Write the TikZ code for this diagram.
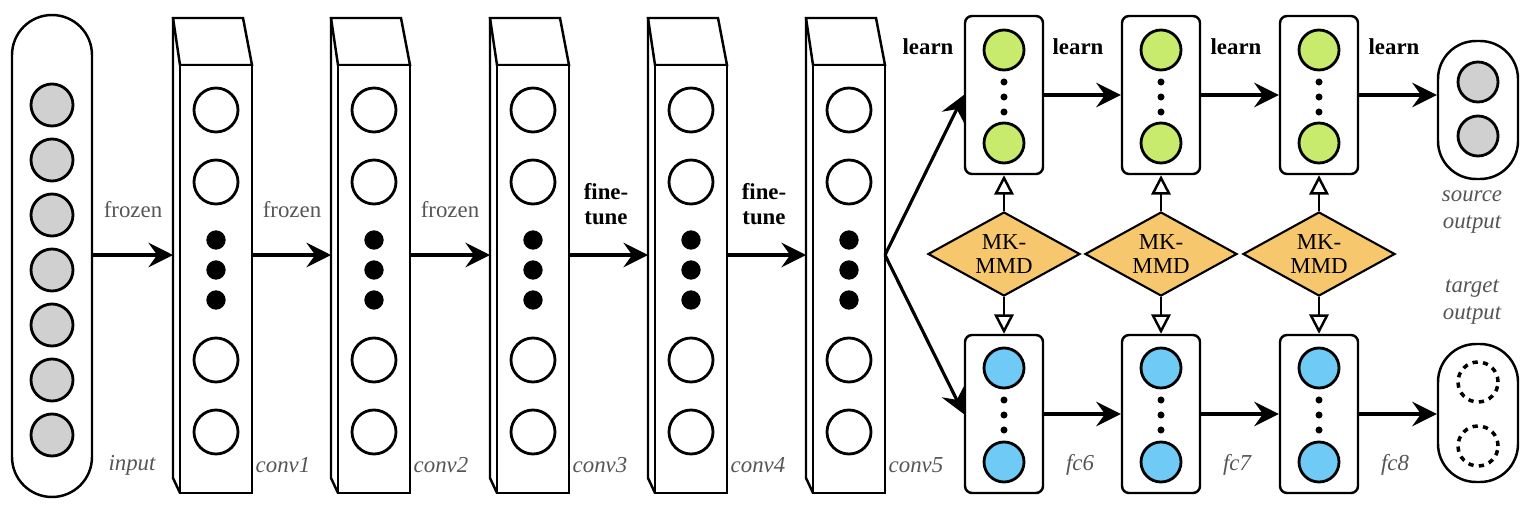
\documentclass[tikz,border=0pt]{standalone}
\usepackage{fontspec}
\setmainfont{Liberation Serif}
\usetikzlibrary{arrows.meta,shapes.geometric}
\definecolor{lgreen}{HTML}{C8EB6E}
\definecolor{lblue}{HTML}{6FCBF5}
\definecolor{mmd}{HTML}{F7C76E}
\definecolor{lgray}{HTML}{D0D0D0}
\definecolor{tgray}{HTML}{555555}
\begin{document}
\begin{tikzpicture}[x=0.02cm,y=-0.02cm,
  line width=1.6pt,
  font=\rmfamily,
  arr/.style={-{Stealth[length=14pt,width=14pt,inset=5pt]},line width=1.8pt},
  oarr/.style={-{Triangle[open,length=11pt,width=11pt]},line width=1.4pt},
  neur/.style={circle,draw,minimum size=44\cdotpx,inner sep=0pt},
  dot/.style={circle,fill=black,minimum size=11pt,inner sep=0pt},
  sdot/.style={circle,fill=black,minimum size=4pt,inner sep=0pt},
  lab/.style={font=\rmfamily\fontsize{13}{15}\selectfont\itshape,text=tgray},
  tl/.style={font=\rmfamily\fontsize{13}{14}\selectfont,text=tgray},
  bl/.style={font=\rmfamily\fontsize{13}{14}\selectfont\bfseries,align=center},
  box/.style={draw,rounded corners=4pt,line width=1.4pt},
  diam/.style={diamond,draw,fill=mmd,line width=1.2pt,aspect=1.8,minimum width=152\cdotpx,minimum height=84\cdotpx,inner sep=0pt,align=center,font=\rmfamily\fontsize{13}{14}\selectfont}
]
\def\cdotpx{*0.02cm}
\useasboundingbox (0,0) rectangle (1538,507);
% input
\node[box,rounded corners=40\cdotpx,minimum width=80\cdotpx,minimum height=482\cdotpx] (in) at (52,256) {};
\foreach \i in {0,...,6}{\node[neur,fill=lgray,minimum size=42\cdotpx] (i\i) at (52,105+55*\i) {};}
\node[lab] (linput) at (132,465) {input};
% conv layers
\foreach \k/\x in {1/180,2/338,3/497,4/655,5/813}{
  \draw[line width=1.4pt] (\x-7,18) -- (\x+63,18) -- (\x+72,65) -- (\x,65) -- cycle;
  \draw[line width=1.4pt] (\x-7,18) -- (\x-7,478) -- (\x,493);
  \draw[line width=1.4pt,fill=white] (\x,65) rectangle (\x+72,493);
  \coordinate (c\k l) at (\x-7,255);
  \coordinate (c\k r) at (\x+72,255);
  \node[neur] (c\k a) at (\x+36,110) {};
  \node[neur] (c\k b) at (\x+36,182) {};
  \node[neur] (c\k c) at (\x+36,360) {};
  \node[neur] (c\k d) at (\x+36,432) {};
  \foreach \j in {0,1,2}{\node[dot] (c\k d\j) at (\x+36,240+30*\j) {};}
  \node[lab] (lc\k) at (\x+103,465) {conv\k};
}
\draw[arr] (in.east|-c1l) -- (c1l);
\draw[arr] (c1r) -- (c2l);
\draw[arr] (c2r) -- (c3l);
\draw[arr] (c3r) -- (c4l);
\draw[arr] (c4r) -- (c5l);
\node[tl] (f1) at (133,210) {frozen};
\node[tl] (f2) at (292,210) {frozen};
\node[tl] (f3) at (450,210) {frozen};
\node[bl] (f4) at (606,204) {fine-\\tune};
\node[bl] (f5) at (764,204) {fine-\\tune};
% fc layers
\foreach \k/\x/\n in {1/1004/6,2/1161/7,3/1319/8}{
  \node[box,minimum width=78\cdotpx,minimum height=158\cdotpx] (t\k) at (\x,95) {};
  \node[box,minimum width=78\cdotpx,minimum height=158\cdotpx] (b\k) at (\x,414) {};
  \node[neur,fill=lgreen,minimum size=40\cdotpx] (t\k a) at (\x,50) {};
  \node[neur,fill=lgreen,minimum size=40\cdotpx] (t\k b) at (\x,143) {};
  \node[neur,fill=lblue,minimum size=40\cdotpx] (b\k a) at (\x,368) {};
  \node[neur,fill=lblue,minimum size=40\cdotpx] (b\k b) at (\x,462) {};
  \foreach \j in {0,1,2}{\node[sdot] at (\x,82+15*\j) {}; \node[sdot] at (\x,400+15*\j) {};}
  \node[diam] (m\k) at (\x,254) {MK-\\MMD};
  \draw[oarr] (m\k.north) -- (t\k.south);
  \draw[oarr] (m\k.south) -- (b\k.north);
  \node[lab] (lf\k) at (\x+76,465) {fc\n};
}
\draw[arr] (c5r) -- (t1.west);
\draw[arr] (c5r) -- (b1.west);
\draw[arr] (t1.east) -- (t2.west);
\draw[arr] (t2.east) -- (t3.west);
\draw[arr] (b1.east) -- (b2.west);
\draw[arr] (b2.east) -- (b3.west);
% outputs
\node[box,rounded corners=38\cdotpx,minimum width=80\cdotpx,minimum height=138\cdotpx] (so) at (1478,110) {};
\node[box,rounded corners=38\cdotpx,minimum width=80\cdotpx,minimum height=138\cdotpx] (to) at (1478,413) {};
\node[neur,fill=lgray,minimum size=40\cdotpx] (so1) at (1478,82) {};
\node[neur,fill=lgray,minimum size=40\cdotpx] (so2) at (1478,136) {};
\node[neur,dashed,line width=2pt,minimum size=40\cdotpx] (to1) at (1478,382) {};
\node[neur,dashed,line width=2pt,minimum size=40\cdotpx] (to2) at (1478,446) {};
\draw[arr] (t3.east) -- (so.west|-t3.east);
\draw[arr] (b3.east) -- (to.west|-b3.east);
\foreach \x/\n in {928/a,1078/b,1236/c,1394/d}{\node[bl] (le\n) at (\x,47) {learn};}
\node[lab,align=center] (src) at (1472,212) {source\\output};
\node[lab,align=center] (tgt) at (1472,302) {target\\output};
\end{tikzpicture}
\end{document}
